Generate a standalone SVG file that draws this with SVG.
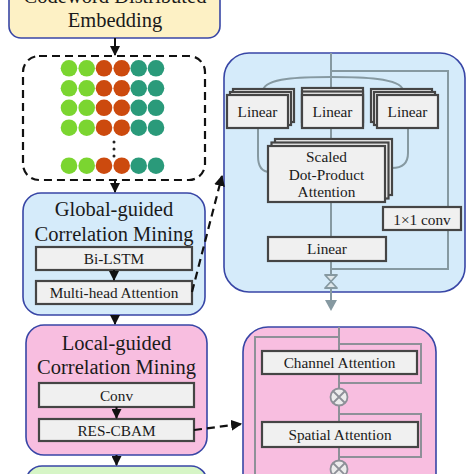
<svg xmlns="http://www.w3.org/2000/svg" width="474" height="474" viewBox="0 0 474 474">
<defs>
<style>
.t{font-family:"Liberation Serif","Times New Roman",serif;fill:#1a1a1a;text-anchor:middle}
.big{font-size:20.5px}
.sm{font-size:15.3px}
.outer{stroke:#3846a6;stroke-width:1.6}
.blue{fill:#d5ebfa}
.pink{fill:#f8bee0}
.box{fill:#f0f0f0;stroke:#454545;stroke-width:2.2}
.gl{fill:none;stroke:#8699a1;stroke-width:2}
.pl{fill:none;stroke:#8e9098;stroke-width:2}
.arr{stroke:#111;stroke-width:2;fill:none}
.dash{stroke:#111;stroke-width:2.2;fill:none;stroke-dasharray:8 5}
.g{fill:#7bd530}.o{fill:#cc4a0e}.c{fill:#2a9a7a}
.ot{fill:#ececec;stroke:#8e9098;stroke-width:1.8}
</style>
<marker id="ah" viewBox="0 0 10 10" refX="9" refY="5" markerWidth="5" markerHeight="5" orient="auto" markerUnits="strokeWidth">
<path d="M0,0 L10,5 L0,10 Z" fill="#111"/>
</marker>
</defs>

<!-- Left column -->
<g id="embedding">
<rect x="9" y="-20" width="211" height="58" rx="12" fill="#fdf1c5" class="outer"/>
<text class="t big" x="115" y="3">Codeword Distributed</text>
<text class="t big" x="115" y="27">Embedding</text>
</g>

<g id="matrix">
<rect x="23" y="56" width="182" height="124" rx="16" fill="#fff" class="dash"/>
<g>
<circle class="g" cx="69" cy="68.3" r="8.3"/><circle class="g" cx="86.7" cy="68.3" r="8.3"/><circle class="o" cx="104" cy="68.3" r="8.3"/><circle class="o" cx="121.7" cy="68.3" r="8.3"/><circle class="c" cx="138.7" cy="68.3" r="8.3"/><circle class="c" cx="156" cy="68.3" r="8.3"/>
<circle class="g" cx="69" cy="88.3" r="8.3"/><circle class="g" cx="86.7" cy="88.3" r="8.3"/><circle class="o" cx="104" cy="88.3" r="8.3"/><circle class="o" cx="121.7" cy="88.3" r="8.3"/><circle class="c" cx="138.7" cy="88.3" r="8.3"/><circle class="c" cx="156" cy="88.3" r="8.3"/>
<circle class="g" cx="69" cy="107.8" r="8.3"/><circle class="g" cx="86.7" cy="107.8" r="8.3"/><circle class="o" cx="104" cy="107.8" r="8.3"/><circle class="o" cx="121.7" cy="107.8" r="8.3"/><circle class="c" cx="138.7" cy="107.8" r="8.3"/><circle class="c" cx="156" cy="107.8" r="8.3"/>
<circle class="g" cx="69" cy="127.7" r="8.3"/><circle class="g" cx="86.7" cy="127.7" r="8.3"/><circle class="o" cx="104" cy="127.7" r="8.3"/><circle class="o" cx="121.7" cy="127.7" r="8.3"/><circle class="c" cx="138.7" cy="127.7" r="8.3"/><circle class="c" cx="156" cy="127.7" r="8.3"/>
<circle class="g" cx="69" cy="165.7" r="8.3"/><circle class="g" cx="86.7" cy="165.7" r="8.3"/><circle class="o" cx="104" cy="165.7" r="8.3"/><circle class="o" cx="121.7" cy="165.7" r="8.3"/><circle class="c" cx="138.7" cy="165.7" r="8.3"/><circle class="c" cx="156" cy="165.7" r="8.3"/>
<circle cx="114" cy="142" r="1.5" fill="#222"/><circle cx="114" cy="149" r="1.5" fill="#222"/><circle cx="114" cy="156" r="1.5" fill="#222"/>
</g>
</g>

<g id="global">
<rect x="23" y="193" width="182" height="122" rx="18" class="blue outer"/>
<text class="t big" x="114" y="216">Global-guided</text>
<text class="t big" x="114" y="241">Correlation Mining</text>
</g>
<g id="bilstm">
<rect x="36" y="247" width="156" height="23" class="box"/>
<text class="t sm" x="114" y="264">Bi-LSTM</text>
</g>
<g id="mha">
<rect x="36" y="281" width="156" height="23" class="box"/>
<text class="t sm" x="114" y="298">Multi-head Attention</text>
</g>

<g id="local">
<rect x="26" y="325" width="181" height="130" rx="18" class="pink outer"/>
<text class="t big" x="116.5" y="350">Local-guided</text>
<text class="t big" x="116.5" y="374">Correlation Mining</text>
</g>
<g id="conv">
<rect x="39" y="383" width="155" height="24" class="box"/>
<text class="t sm" x="116.5" y="401">Conv</text>
</g>
<g id="rescbam">
<rect x="39" y="419" width="155" height="22" class="box"/>
<text class="t sm" x="116.5" y="435.5">RES-CBAM</text>
</g>

<g id="next">
<rect x="26" y="466" width="181" height="40" rx="16" fill="#d6f5c6" class="outer"/>
</g>

<!-- Multi-head attention detail -->
<g id="mha-detail">
<rect x="224" y="53" width="241" height="239" rx="25" class="blue outer"/>
<path class="gl" d="M331,53 L331,95"/>
<path class="gl" d="M331,71 L448,71 L448,269 L331,269"/>
<path class="gl" d="M263,90 C266,78 300,77 331,77 C362,77 400,78 403,90"/>
<path class="gl" d="M258,128 L258,156 Q258,172 270,172"/>
<path class="gl" d="M408,128 L408,153 Q408,168 392,168"/>
<path class="gl" d="M331,128 L331,146 M331,202 L331,237 M331,261 L331,302"/>
<g>
<rect x="233" y="89" width="61" height="33" class="box"/>
<rect x="230" y="92" width="61" height="33" class="box"/>
<rect x="227" y="95" width="61" height="33" class="box"/>
<text class="t sm" x="257.5" y="117">Linear</text>
</g>
<g>
<rect x="302" y="88" width="61" height="34" class="box"/>
<rect x="302" y="91.5" width="61" height="34" class="box"/>
<rect x="302" y="95" width="61" height="33" class="box"/>
<text class="t sm" x="332.5" y="117">Linear</text>
</g>
<g>
<rect x="371" y="89" width="61" height="33" class="box"/>
<rect x="374" y="92" width="61" height="33" class="box"/>
<rect x="377" y="95" width="61" height="33" class="box"/>
<text class="t sm" x="407.5" y="117">Linear</text>
</g>
<g>
<rect x="275" y="139" width="117" height="56" class="box"/>
<rect x="271.5" y="142.5" width="117" height="56" class="box"/>
<rect x="268" y="146" width="117" height="56" class="box"/>
<text class="t sm" x="326.5" y="162">Scaled</text>
<text class="t sm" x="326.5" y="180">Dot-Product</text>
<text class="t sm" x="326.5" y="197">Attention</text>
</g>
<g>
<rect x="383" y="207" width="78" height="23" class="box"/>
<text class="t sm" x="422" y="225">1×1 conv</text>
</g>
<g>
<rect x="268" y="237" width="118" height="24" class="box"/>
<text class="t sm" x="327" y="254">Linear</text>
</g>
<path d="M325,275 L337,275 L331,281.5 Z M325,288 L337,288 L331,281.5 Z" fill="#dfe7ea" stroke="#8699a1" stroke-width="1.8" stroke-linejoin="round"/>
<path d="M325,300 L337,300 L331,311 Z" fill="#8699a1"/>
</g>

<!-- CBAM detail -->
<g id="cbam-detail">
<rect x="243" y="327" width="193" height="190" rx="25" class="pink outer"/>
<path class="pl" d="M339,327 L339,474"/>
<path class="pl" d="M339,337 L255,337 L255,480"/>
<path class="pl" d="M339,344 L421,344 L421,383 L339,383"/>
<path class="pl" d="M339,414 L421,414 L421,457 L339,457"/>
<g>
<rect x="262" y="351" width="155" height="23" class="box"/>
<text class="t sm" x="339.5" y="368">Channel Attention</text>
</g>
<g>
<rect x="262" y="422" width="156" height="25" class="box"/>
<text class="t sm" x="340" y="440">Spatial Attention</text>
</g>
<g>
<circle cx="339" cy="397" r="8.5" class="ot"/>
<path d="M333,391 L345,403 M345,391 L333,403" stroke="#8e9098" stroke-width="1.8"/>
</g>
<g>
<circle cx="339" cy="469" r="8.5" class="ot"/>
<path d="M333,463 L345,475 M345,463 L333,475" stroke="#8e9098" stroke-width="1.8"/>
</g>
</g>

<!-- Connectors -->
<g id="connectors">
<line class="arr" x1="115" y1="38" x2="115" y2="55" marker-end="url(#ah)"/>
<line class="arr" x1="115" y1="180" x2="115" y2="192" marker-end="url(#ah)"/>
<line class="arr" x1="114" y1="270" x2="114" y2="280" marker-end="url(#ah)"/>
<line class="arr" x1="115" y1="315" x2="115" y2="324" marker-end="url(#ah)"/>
<line class="arr" x1="116.5" y1="407" x2="116.5" y2="418" marker-end="url(#ah)"/>
<line class="arr" x1="116.5" y1="455" x2="116.5" y2="465" marker-end="url(#ah)"/>
<line class="dash" x1="192" y1="292" x2="222" y2="176" marker-end="url(#ah)"/>
<line class="dash" x1="194" y1="430" x2="241" y2="424" marker-end="url(#ah)"/>
</g>
</svg>
